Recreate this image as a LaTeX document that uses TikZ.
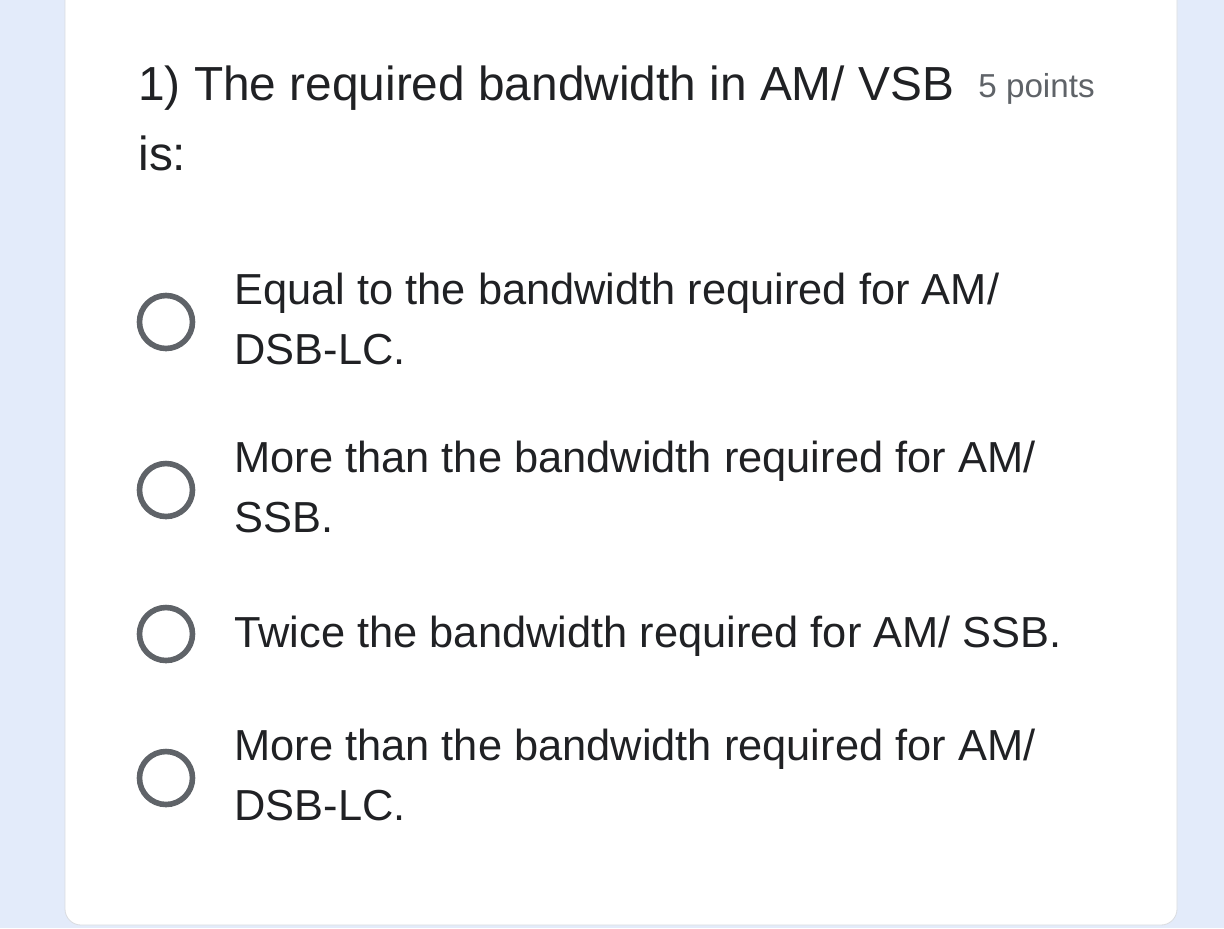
\documentclass[tikz,border=0pt]{standalone}
\usepackage{fontspec}
\setmainfont{Liberation Sans}
\definecolor{bg}{HTML}{E3EBFA}
\definecolor{txt}{HTML}{202124}
\definecolor{gr}{HTML}{5F6368}
\definecolor{bord}{HTML}{DADCE0}
\begin{document}
\begin{tikzpicture}[x=0.5pt,y=-0.5pt,
  title/.style={anchor=base west,inner sep=0,text=txt,font=\fontsize{23.9}{28}\selectfont},
  opt/.style={anchor=base west,inner sep=0,text=txt,font=\fontsize{21.7}{24}\selectfont},
  radio/.style={circle,draw=gr,line width=2.8pt,minimum size=26.5pt,inner sep=0}]
\useasboundingbox (0,0) rectangle (1224,928);
\fill[bg] (0,0) rectangle (1224,928);
\draw[bord,fill=white,rounded corners=8pt] (65,-30) rectangle (1177,925);
\node[title] (t1) at (138,100) {1) The required bandwidth in AM/ VSB};
\node[anchor=base west,inner sep=0,text=gr,font=\fontsize{16.6}{20}\selectfont] (pts) at (978,97) {5 points};
\node[title] (t2) at (138,170) {is:};
\node[radio] (r1) at (166,322) {};
\node[opt] (a1) at (234,304) {Equal to the bandwidth required for AM/};
\node[opt] (a2) at (234,364) {DSB-LC.};
\node[radio] (r2) at (166,490) {};
\node[opt] (b1) at (234,472) {More than the bandwidth required for AM/};
\node[opt] (b2) at (234,532) {SSB.};
\node[radio] (r3) at (166,634) {};
\node[opt] (c1) at (234,647) {Twice the bandwidth required for AM/ SSB.};
\node[radio] (r4) at (166,778) {};
\node[opt] (d1) at (234,760) {More than the bandwidth required for AM/};
\node[opt] (d2) at (234,820) {DSB-LC.};
\end{tikzpicture}
\end{document}
